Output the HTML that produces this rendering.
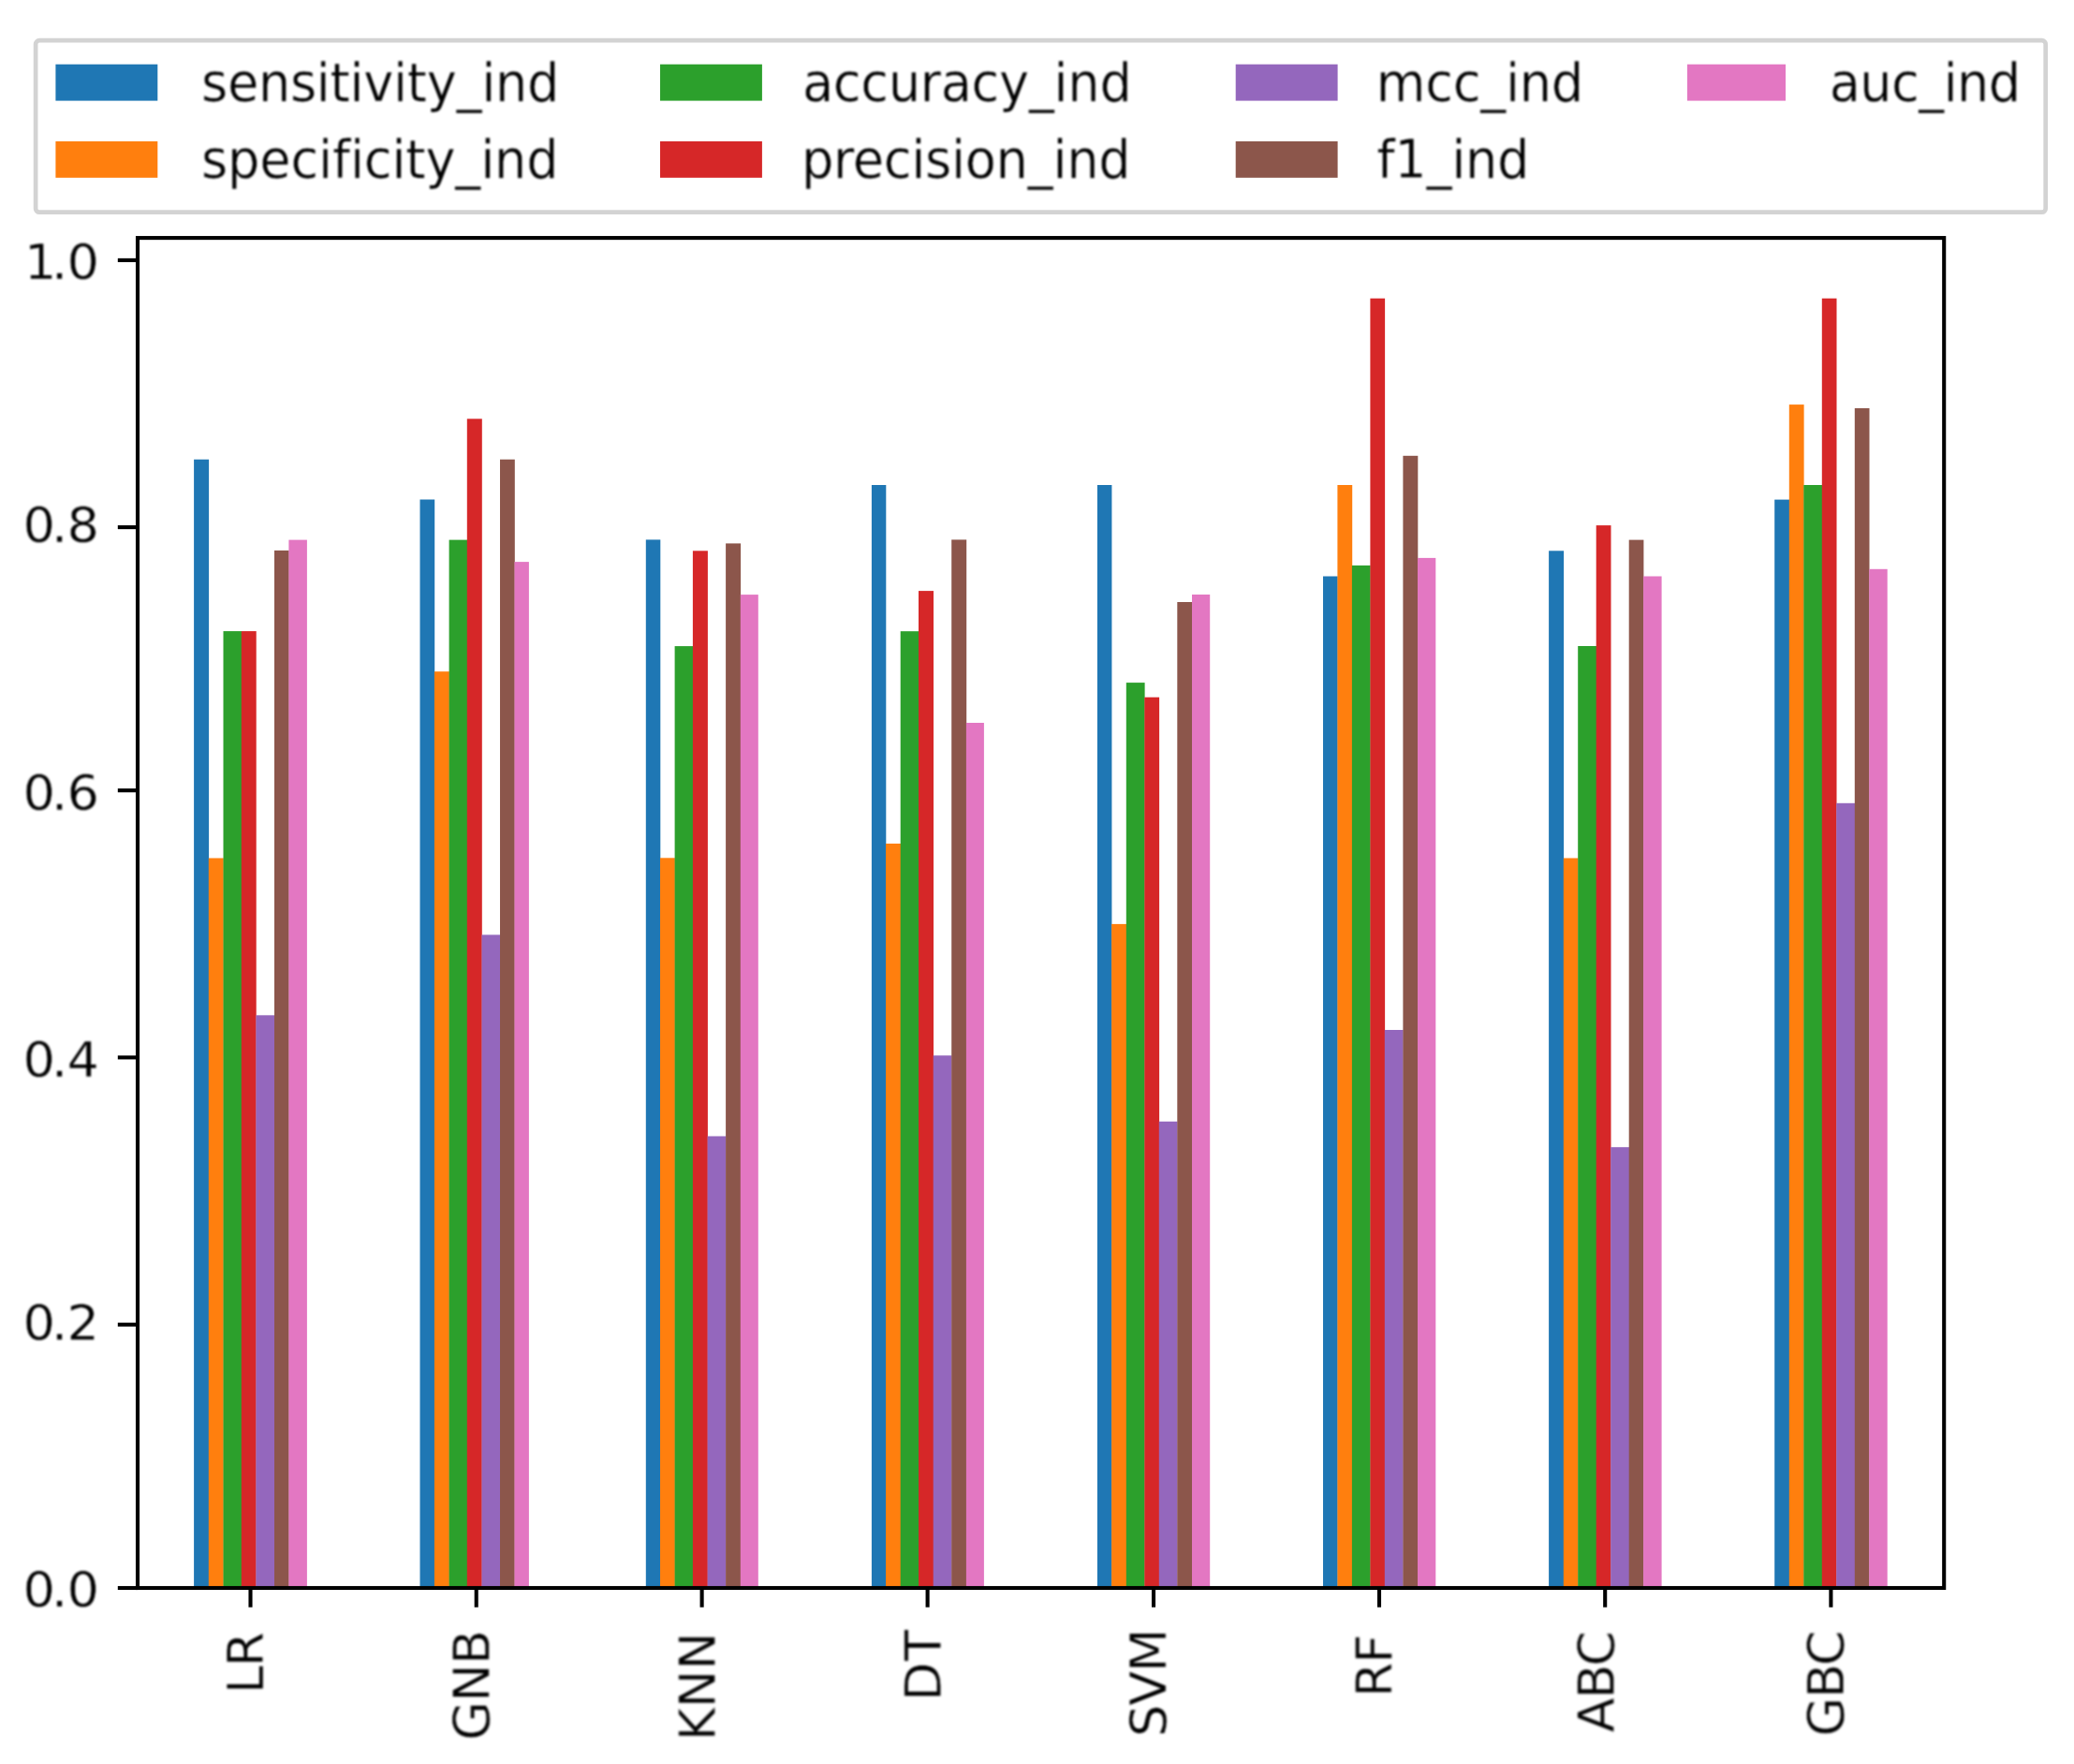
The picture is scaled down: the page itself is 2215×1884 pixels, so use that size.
<!DOCTYPE html>
<html lang="en">
<head>
<meta charset="utf-8">
<title>Classifier metrics bar chart</title>
<style>
html,body{margin:0;padding:0;background:#fff;}
body{width:2215px;height:1884px;overflow:hidden;}
svg{display:block;}
text{font-family:"DejaVu Sans","Liberation Sans",sans-serif;font-size:54.17px;fill:#000;stroke:#fff;stroke-width:0.5px;}
.xl{letter-spacing:-1px;}
.lg{letter-spacing:-0.3px;}
</style>
</head>
<body>
<svg width="2215" height="1884" viewBox="0 0 2215 1884">
<defs>
<filter id="soft" x="0" y="0" width="2215" height="1884" filterUnits="userSpaceOnUse" color-interpolation-filters="sRGB"><feGaussianBlur stdDeviation="0.55"/></filter>
<filter id="softer" x="0" y="0" width="2215" height="1884" filterUnits="userSpaceOnUse" color-interpolation-filters="sRGB"><feGaussianBlur stdDeviation="0.90"/></filter>
</defs>
<rect x="0" y="0" width="2215" height="1884" fill="#ffffff"/>
<g filter="url(#soft)">
<g id="bars">
<rect x="207.1" y="490.7" width="16.0" height="1205.3" fill="#1f77b4"/>
<rect x="222.8" y="916.5" width="16.0" height="779.5" fill="#ff7f0e"/>
<rect x="238.5" y="674.1" width="19.6" height="1021.9" fill="#2ca02c"/>
<rect x="257.8" y="674.1" width="15.9" height="1021.9" fill="#d62728"/>
<rect x="273.4" y="1084.3" width="19.9" height="611.7" fill="#9467bd"/>
<rect x="293.0" y="587.9" width="15.7" height="1108.1" fill="#8c564b"/>
<rect x="308.4" y="576.6" width="19.5" height="1119.4" fill="#e377c2"/>
<rect x="448.5" y="533.5" width="15.7" height="1162.5" fill="#1f77b4"/>
<rect x="463.9" y="717.2" width="16.0" height="978.8" fill="#ff7f0e"/>
<rect x="479.6" y="576.6" width="19.5" height="1119.4" fill="#2ca02c"/>
<rect x="498.8" y="447.3" width="16.0" height="1248.7" fill="#d62728"/>
<rect x="514.5" y="998.4" width="19.8" height="697.6" fill="#9467bd"/>
<rect x="534.0" y="490.7" width="15.8" height="1205.3" fill="#8c564b"/>
<rect x="549.5" y="600.1" width="15.4" height="1095.9" fill="#e377c2"/>
<rect x="689.8" y="576.4" width="15.5" height="1119.6" fill="#1f77b4"/>
<rect x="705.0" y="916.3" width="15.9" height="779.7" fill="#ff7f0e"/>
<rect x="720.6" y="690.1" width="19.6" height="1005.9" fill="#2ca02c"/>
<rect x="739.9" y="588.3" width="16.0" height="1107.7" fill="#d62728"/>
<rect x="755.6" y="1213.5" width="19.8" height="482.5" fill="#9467bd"/>
<rect x="775.1" y="580.4" width="16.0" height="1115.6" fill="#8c564b"/>
<rect x="790.8" y="635.1" width="19.0" height="1060.9" fill="#e377c2"/>
<rect x="930.9" y="518.0" width="15.4" height="1178.0" fill="#1f77b4"/>
<rect x="946.0" y="901.0" width="16.0" height="795.0" fill="#ff7f0e"/>
<rect x="961.7" y="674.2" width="19.6" height="1021.8" fill="#2ca02c"/>
<rect x="981.0" y="631.1" width="16.0" height="1064.9" fill="#d62728"/>
<rect x="996.7" y="1127.3" width="19.8" height="568.7" fill="#9467bd"/>
<rect x="1016.2" y="576.4" width="16.0" height="1119.6" fill="#8c564b"/>
<rect x="1031.9" y="772.0" width="19.0" height="924.0" fill="#e377c2"/>
<rect x="1171.9" y="518.0" width="15.5" height="1178.0" fill="#1f77b4"/>
<rect x="1187.1" y="986.9" width="16.0" height="709.1" fill="#ff7f0e"/>
<rect x="1202.8" y="729.1" width="19.8" height="966.9" fill="#2ca02c"/>
<rect x="1222.3" y="744.7" width="15.8" height="951.3" fill="#d62728"/>
<rect x="1237.8" y="1197.8" width="19.8" height="498.2" fill="#9467bd"/>
<rect x="1257.3" y="643.0" width="16.0" height="1053.0" fill="#8c564b"/>
<rect x="1273.0" y="635.0" width="19.2" height="1061.0" fill="#e377c2"/>
<rect x="1413.0" y="615.5" width="15.7" height="1080.5" fill="#1f77b4"/>
<rect x="1428.4" y="518.0" width="15.8" height="1178.0" fill="#ff7f0e"/>
<rect x="1443.9" y="603.9" width="19.8" height="1092.1" fill="#2ca02c"/>
<rect x="1463.4" y="318.7" width="15.7" height="1377.3" fill="#d62728"/>
<rect x="1478.8" y="1100.0" width="19.9" height="596.0" fill="#9467bd"/>
<rect x="1498.4" y="486.8" width="15.9" height="1209.2" fill="#8c564b"/>
<rect x="1514.0" y="595.9" width="19.3" height="1100.1" fill="#e377c2"/>
<rect x="1654.1" y="588.3" width="16.0" height="1107.7" fill="#1f77b4"/>
<rect x="1669.8" y="916.5" width="15.7" height="779.5" fill="#ff7f0e"/>
<rect x="1685.2" y="690.0" width="19.8" height="1006.0" fill="#2ca02c"/>
<rect x="1704.7" y="561.1" width="15.8" height="1134.9" fill="#d62728"/>
<rect x="1720.2" y="1225.2" width="19.8" height="470.8" fill="#9467bd"/>
<rect x="1739.7" y="576.6" width="15.7" height="1119.4" fill="#8c564b"/>
<rect x="1755.1" y="615.5" width="19.5" height="1080.5" fill="#e377c2"/>
<rect x="1895.2" y="533.6" width="15.9" height="1162.4" fill="#1f77b4"/>
<rect x="1910.8" y="432.1" width="15.8" height="1263.9" fill="#ff7f0e"/>
<rect x="1926.3" y="518.0" width="19.8" height="1178.0" fill="#2ca02c"/>
<rect x="1945.8" y="318.7" width="15.7" height="1377.3" fill="#d62728"/>
<rect x="1961.2" y="857.8" width="19.9" height="838.2" fill="#9467bd"/>
<rect x="1980.8" y="436.0" width="15.7" height="1260.0" fill="#8c564b"/>
<rect x="1996.2" y="607.8" width="19.5" height="1088.2" fill="#e377c2"/>
</g>
<rect x="147.0" y="254.1" width="1929.2" height="1441.9" fill="none" stroke="#000" stroke-width="4.1"/>
<g id="yaxis">
<line x1="125.8" y1="1696.0" x2="147.0" y2="1696.0" stroke="#000" stroke-width="4.1"/>
<line x1="125.8" y1="1414.7" x2="147.0" y2="1414.7" stroke="#000" stroke-width="4.1"/>
<line x1="125.8" y1="1129.4" x2="147.0" y2="1129.4" stroke="#000" stroke-width="4.1"/>
<line x1="125.8" y1="844.2" x2="147.0" y2="844.2" stroke="#000" stroke-width="4.1"/>
<line x1="125.8" y1="563.1" x2="147.0" y2="563.1" stroke="#000" stroke-width="4.1"/>
<line x1="125.8" y1="277.9" x2="147.0" y2="277.9" stroke="#000" stroke-width="4.1"/>
</g>
<g id="xaxis">
<line x1="267.5" y1="1696.0" x2="267.5" y2="1716.6" stroke="#000" stroke-width="4.1"/>
<line x1="508.7" y1="1696.0" x2="508.7" y2="1716.6" stroke="#000" stroke-width="4.1"/>
<line x1="749.6" y1="1696.0" x2="749.6" y2="1716.6" stroke="#000" stroke-width="4.1"/>
<line x1="990.6" y1="1696.0" x2="990.6" y2="1716.6" stroke="#000" stroke-width="4.1"/>
<line x1="1232.0" y1="1696.0" x2="1232.0" y2="1716.6" stroke="#000" stroke-width="4.1"/>
<line x1="1473.0" y1="1696.0" x2="1473.0" y2="1716.6" stroke="#000" stroke-width="4.1"/>
<line x1="1714.2" y1="1696.0" x2="1714.2" y2="1716.6" stroke="#000" stroke-width="4.1"/>
<line x1="1955.4" y1="1696.0" x2="1955.4" y2="1716.6" stroke="#000" stroke-width="4.1"/>
</g>
<g id="legend">
<rect x="38.1" y="43.2" width="2146.6" height="183.5" rx="4" ry="4" fill="#fff" fill-opacity="0.8" stroke="#d3d3d3" stroke-width="4.7"/>
<rect x="59.4" y="68.7" width="108.9" height="38.9" fill="#1f77b4"/>
<rect x="59.4" y="150.9" width="108.9" height="38.9" fill="#ff7f0e"/>
<rect x="705.0" y="68.7" width="108.9" height="38.9" fill="#2ca02c"/>
<rect x="705.0" y="150.9" width="108.9" height="38.9" fill="#d62728"/>
<rect x="1319.7" y="68.7" width="108.9" height="38.9" fill="#9467bd"/>
<rect x="1319.7" y="150.9" width="108.9" height="38.9" fill="#8c564b"/>
<rect x="1801.9" y="68.7" width="105.1" height="38.9" fill="#e377c2"/>
</g>
</g>
<g id="labels" filter="url(#softer)">
<text transform="translate(0,1716.3) scale(1,0.955)" x="24.6 54.9 71.5" y="0">0.0</text>
<text transform="translate(0,1431.1) scale(1,0.955)" x="24.6 54.9 71.5" y="0">0.2</text>
<text transform="translate(0,1150.0) scale(1,0.955)" x="24.6 54.9 71.5" y="0">0.4</text>
<text transform="translate(0,864.8) scale(1,0.955)" x="24.6 54.9 71.5" y="0">0.6</text>
<text transform="translate(0,579.5) scale(1,0.955)" x="24.6 54.9 71.5" y="0">0.8</text>
<text transform="translate(0,298.4) scale(1,0.955)" x="26.0 54.9 71.5" y="0">1.0</text>
<text transform="translate(281.1,1809.1) rotate(-90)" style="letter-spacing:-1.40px">LR</text>
<text transform="translate(522.4,1858.9) rotate(-90)" style="letter-spacing:-0.80px">GNB</text>
<text transform="translate(763.6,1859.4) rotate(-90)" style="letter-spacing:-0.20px">KNN</text>
<text transform="translate(1004.7,1816.9) rotate(-90)" style="letter-spacing:1.20px">DT</text>
<text transform="translate(1245.2,1855.0) rotate(-90)" style="letter-spacing:-1.15px">SVM</text>
<text transform="translate(1486.5,1812.8) rotate(-90)" style="letter-spacing:-1.40px">RF</text>
<text transform="translate(1723.6,1850.3) rotate(-90)" style="letter-spacing:-1.20px">ABC</text>
<text transform="translate(1968.8,1854.6) rotate(-90)" style="letter-spacing:-1.30px">GBC</text>
<text transform="translate(215.0,108.1) scale(1,1.04)" style="letter-spacing:-0.30px">sensitivity_ind</text>
<text transform="translate(215.0,190.3) scale(1,1.04)" style="letter-spacing:-0.15px">specificity_ind</text>
<text transform="translate(856.9,108.1) scale(1,1.04)" style="letter-spacing:-0.30px">accuracy_ind</text>
<text transform="translate(856.0,190.3) scale(1,1.04)" style="letter-spacing:-0.30px">precision_ind</text>
<text transform="translate(1469.8,108.1) scale(1,1.04)" style="letter-spacing:-0.30px">mcc_ind</text>
<text transform="translate(1470.6,190.3) scale(1,1.04)" style="letter-spacing:-0.30px">f1_ind</text>
<text transform="translate(1953.7,108.1) scale(1,1.04)" style="letter-spacing:-0.60px">auc_ind</text>
</g>
</svg>
</body>
</html>
